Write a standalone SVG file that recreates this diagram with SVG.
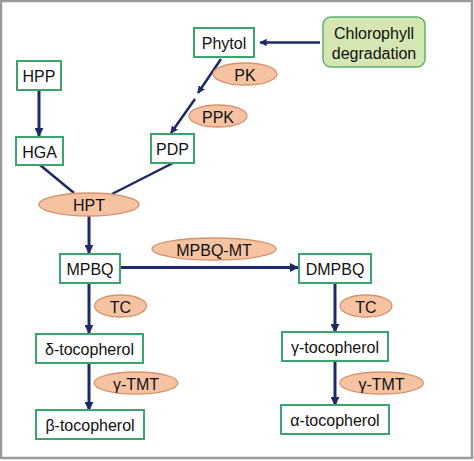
<svg xmlns="http://www.w3.org/2000/svg" width="474" height="461" viewBox="0 0 474 461">
<defs>
<style>
.box{fill:#fff;stroke:#3aa56d;stroke-width:2}
.chl{fill:#d5e6b2;stroke:#5bb36e;stroke-width:1.5}
.enz{fill:#f5c3a2;stroke:#d6936c;stroke-width:1.3}
.t{font-family:"Liberation Sans",Arial,sans-serif;font-size:16px;fill:#111;text-anchor:middle;dominant-baseline:central}
.c{stroke:#1b2a66;fill:none;stroke-width:3}
.thin{stroke-width:2.5}
</style>
<marker id="ah" viewBox="0 0 10 10" refX="9" refY="5" markerWidth="3" markerHeight="3" orient="auto" markerUnits="strokeWidth">
<path d="M0,0 L10,5 L0,10 z" fill="#1b2a66"/>
</marker>
</defs>
<rect x="1" y="1" width="471" height="457" fill="#fff" stroke="#9a9a9a" stroke-width="2.5"/>
<g id="connectors">
<line class="c thin" x1="320" y1="42.5" x2="260" y2="42.5" marker-end="url(#ah)"/>
<line class="c" x1="39" y1="90" x2="39" y2="136" marker-end="url(#ah)"/>
<line class="c thin" x1="221" y1="59" x2="198" y2="93" marker-end="url(#ah)"/>
<line class="c thin" x1="195" y1="99" x2="171" y2="133" marker-end="url(#ah)"/>
<line class="c thin" x1="40" y1="165" x2="74" y2="193"/>
<line class="c thin" x1="173" y1="163" x2="112" y2="194"/>
<line class="c" x1="89" y1="216" x2="89" y2="253" marker-end="url(#ah)"/>
<line class="c" x1="120" y1="267.5" x2="298" y2="267.5" marker-end="url(#ah)"/>
<line class="c" x1="89" y1="283" x2="89" y2="333" marker-end="url(#ah)"/>
<line class="c" x1="89" y1="363" x2="89" y2="410" marker-end="url(#ah)"/>
<line class="c" x1="335" y1="283" x2="335" y2="332" marker-end="url(#ah)"/>
<line class="c" x1="335" y1="361" x2="335" y2="405" marker-end="url(#ah)"/>
</g>
<g id="phytol"><rect class="box" x="194" y="28" width="60" height="29"/><text class="t" x="224" y="43">Phytol</text></g>
<g id="chlorophyll"><rect class="chl" x="323" y="17" width="102" height="50" rx="8"/><text class="t" x="374" y="33">Chlorophyll</text><text class="t" x="374" y="53">degradation</text></g>
<g id="hpp"><rect class="box" x="17" y="61" width="44" height="29"/><text class="t" x="39" y="76">HPP</text></g>
<g id="hga"><rect class="box" x="16" y="137" width="47" height="28"/><text class="t" x="39.5" y="152">HGA</text></g>
<g id="pdp"><rect class="box" x="151" y="134" width="43" height="29"/><text class="t" x="172.5" y="149">PDP</text></g>
<g id="pk"><ellipse class="enz" cx="245" cy="74" rx="32" ry="11"/><text class="t" x="245" y="75">PK</text></g>
<g id="ppk"><ellipse class="enz" cx="218" cy="116" rx="29" ry="11"/><text class="t" x="218" y="117">PPK</text></g>
<g id="hpt"><ellipse class="enz" cx="89" cy="204.5" rx="50" ry="11.5"/><text class="t" x="89" y="205.5">HPT</text></g>
<g id="mpbq"><rect class="box" x="60" y="254" width="60" height="29"/><text class="t" x="90" y="269">MPBQ</text></g>
<g id="mpbq-mt"><ellipse class="enz" cx="214" cy="249" rx="62" ry="11"/><text class="t" x="214" y="250">MPBQ-MT</text></g>
<g id="dmpbq"><rect class="box" x="299" y="254" width="72" height="29"/><text class="t" x="335" y="269">DMPBQ</text></g>
<g id="tc-left"><ellipse class="enz" cx="120.5" cy="306" rx="26" ry="11"/><text class="t" x="120.5" y="307">TC</text></g>
<g id="tc-right"><ellipse class="enz" cx="366" cy="306" rx="26" ry="11"/><text class="t" x="366" y="307">TC</text></g>
<g id="delta-tocopherol"><rect class="box" x="36" y="334" width="107" height="29"/><text class="t" x="89.5" y="349">δ-tocopherol</text></g>
<g id="gamma-tocopherol"><rect class="box" x="282" y="332" width="106" height="29"/><text class="t" x="335" y="347">γ-tocopherol</text></g>
<g id="gtmt-left"><ellipse class="enz" cx="136" cy="383" rx="42" ry="11"/><text class="t" x="136" y="384">γ-TMT</text></g>
<g id="gtmt-right"><ellipse class="enz" cx="381.5" cy="383" rx="42" ry="11"/><text class="t" x="381.5" y="384">γ-TMT</text></g>
<g id="beta-tocopherol"><rect class="box" x="36" y="410" width="108" height="29"/><text class="t" x="90" y="425">β-tocopherol</text></g>
<g id="alpha-tocopherol"><rect class="box" x="281" y="405" width="108" height="29"/><text class="t" x="335" y="420">α-tocopherol</text></g>
</svg>
